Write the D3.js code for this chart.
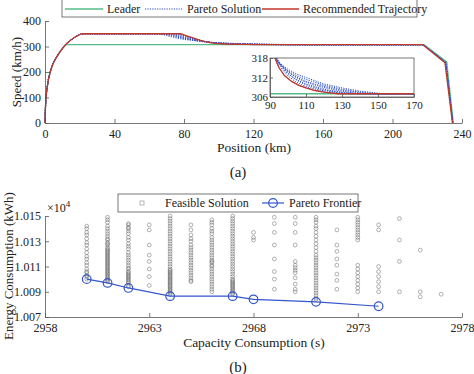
<!DOCTYPE html>
<html>
<head>
<meta charset="utf-8">
<script src="https://cdn.jsdelivr.net/npm/d3@7"></script>
<style>
  body { margin: 0; background: #fff; }
  svg { display: block; font-family: "Liberation Serif", "Times New Roman", serif; }
</style>
</head>
<body>
<svg id="chart" width="474" height="374"></svg>
<script>
// ---- panel (a) data: position (km), speed (km/h) ----
const accelPart = [[0,0],[0.2,50],[0.5,95],[1,129],[2,172],[3,201],[4,222],[5,238],[6,251],[7,262],[8,273],[9,283],[10,292],[11,300],[12.5,312],[14,321],[16,331],[18,340],[20,346.5],[21.5,350]];
const leaderAccel = [[0,0],[0.2,50],[0.5,95],[1,129],[2,172],[3,201],[4,222],[5,238],[6,251],[7,262],[8,273],[9,283],[10,292],[11,300],[11.8,307]];
const leaderEnd = [[218.1,307],[231.2,240],[235,0]];
const trajEnd = [[217.4,307],[230.2,236],[234.5,0]];
const paretoEnd = [[217.6,307],[230.6,238],[234.7,0]];

// deceleration parts of the Pareto solutions
const paretoDecel = [
  [[66,350],[70,343],[74,336],[78,330],[82,326],[86,322.5],[90,319.5],[95,316.5],[100,314.5],[105,313],[110,312],[115,311],[120,310],[130,308.8],[140,307.8],[153,307]],
  [[68,350],[72,343],[76,336.5],[80,331],[84,326.5],[88,322],[92,318.5],[96,316],[100,314],[105,312.5],[110,311.4],[115,310.5],[120,309.6],[130,308.4],[140,307.5],[150,307]],
  [[70,350],[74,343],[78,336],[82,330],[86,325],[90,320.5],[94,317],[98,314.8],[102,313],[106,311.8],[110,310.8],[116,309.8],[122,309],[130,308.1],[140,307.3],[147,307]],
  [[72,350],[76,342.5],[80,335.5],[84,329],[88,323.5],[92,319],[96,316],[100,313.8],[104,312.2],[108,311],[114,309.8],[120,308.9],[128,308],[136,307.3],[143,307]],
  [[74,350],[78,342],[82,334.5],[86,327.5],[90,321.5],[94,317],[98,314.2],[102,312.3],[106,311],[110,310],[116,309],[122,308.2],[130,307.5],[139,307]],
  [[76,350],[80,342],[84,334],[88,326.5],[92,320],[96,315.8],[100,313.2],[104,311.5],[108,310.2],[112,309.3],[118,308.4],[125,307.7],[135,307]],
  [[77,350],[81,341.5],[85,333],[89,325],[92,319.5],[96,315],[100,312.5],[104,310.8],[108,309.6],[113,308.7],[120,307.9],[128,307.3],[133,307]],
  [[78,350],[82,340.5],[86,331.5],[89,325],[92,319],[95,315],[98,312.6],[102,310.8],[106,309.6],[110,308.8],[115,308],[121,307.4],[128,307]]
];
const recommendedIndex = 7;

const xTicksA = [0, 40, 80, 120, 160, 200, 240];
const yTicksA = [0, 100, 200, 300, 400];
const insetXTicks = [90, 110, 130, 150, 170];
const insetYTicks = [306, 312, 318];

// ---- panel (b) data: capacity consumption (s), energy (x10^4 kWh) ----
const capacity = [2960, 2961, 2962, 2963, 2964, 2965, 2966, 2967, 2968, 2969, 2970, 2971, 2972, 2973, 2974, 2975, 2976, 2977];
const feasibleEnergy = [
  [1.0142,1.0140,1.0137,1.0135,1.0132,1.0129,1.0127,1.0124,1.0121,1.0118,1.0116,1.0113,1.0111,1.0108,1.0106,1.0105,1.0103,1.0102,1.0100],
  [1.0149,1.0147,1.0145,1.0142,1.0140,1.0138,1.0136,1.0134,1.0132,1.0131,1.0129,1.0128,1.0127,1.0125,1.0124,1.0123,1.0122,1.0121,1.0120,1.0119,1.0118,1.0117,1.0116,1.0115,1.0114,1.0113,1.0112,1.0111,1.0110,1.0109,1.0108,1.0107,1.0106,1.0105,1.0104,1.0103,1.0102,1.0101,1.0100,1.0099,1.0098],
  [1.0144,1.0143,1.0141,1.0140,1.0138,1.0136,1.0133,1.0131,1.0128,1.0126,1.0124,1.0121,1.0119,1.0117,1.0115,1.0113,1.0111,1.0109,1.0108,1.0106,1.0105,1.0104,1.0103,1.0102,1.0101,1.0100,1.0099,1.0098,1.0097,1.0095,1.0094],
  [1.0143,1.0139,1.0127,1.0119,1.0114,1.0108,1.0102,1.0095],
  [1.0150,1.0148,1.0146,1.0144,1.0142,1.0140,1.0138,1.0136,1.0134,1.0132,1.0130,1.0128,1.0126,1.0124,1.0122,1.0120,1.0118,1.0116,1.0114,1.0112,1.0110,1.0108,1.0107,1.0106,1.0105,1.0104,1.0103,1.0102,1.0101,1.0100,1.0099,1.0098,1.0097,1.0096,1.0095,1.0094,1.0093,1.0092,1.0091,1.0090,1.0089,1.0088],
  [1.0143,1.0139,1.0135,1.0132,1.0130,1.0127,1.0125,1.0123,1.0121,1.0119,1.0117,1.0115,1.0113,1.0111,1.0109,1.0107,1.0105,1.0103,1.0101,1.0099,1.0098],
  [1.0147,1.0145,1.0143,1.0140,1.0138,1.0136,1.0133,1.0131,1.0129,1.0127,1.0125,1.0123,1.0121,1.0119,1.0117,1.0115,1.0114,1.0113,1.0111,1.0110,1.0108,1.0106,1.0104,1.0102,1.0100,1.0098,1.0096,1.0094,1.0092,1.0090],
  [1.0150,1.0148,1.0146,1.0144,1.0142,1.0140,1.0138,1.0136,1.0134,1.0132,1.0130,1.0128,1.0126,1.0124,1.0122,1.0120,1.0118,1.0116,1.0114,1.0112,1.0110,1.0108,1.0106,1.0104,1.0102,1.0100,1.0099,1.0098,1.0097,1.0096,1.0095,1.0094,1.0093,1.0092,1.0091,1.0090,1.0089,1.0088],
  [1.0137,1.0133,1.0131],
  [1.0149,1.0144,1.0137,1.0127,1.0116,1.0106,1.0100,1.0092],
  [1.0149,1.0144,1.0137,1.0127,1.0114,1.0111,1.0109,1.0107,1.0105,1.0101,1.0096,1.0092,1.0090],
  [1.0149,1.0147,1.0145,1.0142,1.0140,1.0137,1.0134,1.0131,1.0128,1.0125,1.0122,1.0119,1.0117,1.0115,1.0113,1.0111,1.0109,1.0107,1.0105,1.0103,1.0101,1.0099,1.0097,1.0095,1.0093,1.0091,1.0089,1.0087,1.0085,1.0084],
  [1.0139,1.0127,1.0122,1.0116,1.0111,1.0104,1.0099,1.0092],
  [1.0149,1.0147,1.0145,1.0143,1.0141,1.0139,1.0137,1.0135,1.0133,1.0131,1.0111,1.0108,1.0105,1.0102,1.0099,1.0096,1.0093,1.0090],
  [1.0143,1.0139,1.0110,1.0106,1.0102,1.0098,1.0094,1.0090],
  [1.0148,1.0131,1.0114,1.0090],
  [1.0123,1.0090,1.0086],
  [1.0088]
];
const frontierCapacity = [2960, 2961, 2962, 2964, 2967, 2968, 2971, 2974];
const frontierEnergy = [1.0100, 1.0097, 1.0093, 1.00865, 1.00865, 1.0084, 1.0082, 1.00785];

const xTicksB = [2958, 2963, 2968, 2973, 2978];
const yTicksB = [1.007, 1.009, 1.011, 1.013, 1.015];

// colours
const cLeader = "#55bb8a", cPareto = "#2f4fd0", cRed = "#c0392b", cFront = "#3556cc", axisCol = "#555";
const serif = "'Liberation Serif', 'Times New Roman', serif";

const svg = d3.select("#chart");

function styleAxis(g) {
  g.attr("font-family", null).attr("font-size", null);
  g.select(".domain").attr("stroke", axisCol).attr("stroke-width", 0.8);
  g.selectAll(".tick line").attr("stroke", axisCol).attr("stroke-width", 0.8);
  g.selectAll(".tick text").attr("fill", "#222").style("font-size", "12px");
}

// ================= panel (a) =================
const xA = d3.scaleLinear().domain([0, 240]).range([45, 462]);
const yA = d3.scaleLinear().domain([0, 400]).range([123, 21]);

function fullPath(decel, end) {
  return accelPart.concat([[decel[0][0], 350]]).concat(decel).concat(end);
}
const paretoPaths = paretoDecel.map(d => fullPath(d, paretoEnd));
const redPath = fullPath(paretoDecel[recommendedIndex], trajEnd);
const leaderPath = leaderAccel.concat(leaderEnd);

function drawLines(g, xs, ys) {
  const line = d3.line().x(d => xs(d[0])).y(d => ys(d[1]));
  g.append("path").datum(leaderPath).attr("d", line)
    .attr("fill", "none").attr("stroke", cLeader).attr("stroke-width", 1.3);
  g.selectAll("path.pareto").data(paretoPaths).join("path").attr("class", "pareto")
    .attr("d", line).attr("fill", "none").attr("stroke", cPareto)
    .attr("stroke-width", 1).attr("stroke-dasharray", "1.2,1.2");
  g.append("path").datum(redPath).attr("d", line)
    .attr("fill", "none").attr("stroke", cRed).attr("stroke-width", 1.3);
}

const gA = svg.append("g");
drawLines(gA, xA, yA);

gA.append("g").attr("transform", `translate(0,${yA(0)})`)
  .call(d3.axisBottom(xA).tickValues(xTicksA).tickSizeInner(-4).tickSizeOuter(0).tickPadding(6))
  .call(styleAxis);
gA.append("g").attr("transform", `translate(${xA(0)},0)`)
  .call(d3.axisLeft(yA).tickValues(yTicksA).tickSizeInner(-4).tickSizeOuter(0).tickPadding(4))
  .call(styleAxis);

// inset
const xI = d3.scaleLinear().domain([90, 170]).range([270, 414]);
const yI = d3.scaleLinear().domain([306, 318]).range([97, 58]);
svg.append("defs").append("clipPath").attr("id", "insetClip")
  .append("rect").attr("x", 270).attr("y", 58).attr("width", 144).attr("height", 39);
const gI = svg.append("g");
gI.append("rect").attr("x", 270).attr("y", 58).attr("width", 144).attr("height", 39).attr("fill", "#fff");
const gIL = gI.append("g").attr("clip-path", "url(#insetClip)");
drawLines(gIL, xI, yI);
gI.append("rect").attr("x", 270).attr("y", 58).attr("width", 144).attr("height", 39)
  .attr("fill", "none").attr("stroke", axisCol).attr("stroke-width", 0.8);
gI.append("g").attr("transform", `translate(0,${yI(306)})`)
  .call(d3.axisBottom(xI).tickValues(insetXTicks).tickSizeInner(-3).tickSizeOuter(0).tickPadding(4))
  .call(styleAxis).call(g => g.selectAll(".tick text").style("font-size", "11px"));
gI.append("g").attr("transform", `translate(${xI(90)},0)`)
  .call(d3.axisLeft(yI).tickValues(insetYTicks).tickSizeInner(-3).tickSizeOuter(0).tickPadding(2))
  .call(styleAxis).call(g => g.selectAll(".tick text").style("font-size", "11px"));

// labels (a)
svg.append("text").attr("transform", "translate(16,72) rotate(-90)").attr("text-anchor", "middle")
  .attr("dy", "0.35em").style("font-size", "13px").attr("fill", "#222").text("Speed (km/h)");
svg.append("text").attr("x", 254).attr("y", 152).attr("text-anchor", "middle")
  .style("font-size", "13.5px").attr("fill", "#222").text("Position (km)");
svg.append("text").attr("x", 238).attr("y", 177).attr("text-anchor", "middle")
  .style("font-size", "15px").attr("fill", "#222").text("(a)");

// legend (a)
const legA = svg.append("g");
legA.append("rect").attr("x", 62).attr("y", -1).attr("width", 355).attr("height", 18)
  .attr("fill", "#fff").attr("stroke", axisCol).attr("stroke-width", 0.8);
const legItemsA = [
  { label: "Leader", x1: 65, x2: 103, tx: 107, color: cLeader, dash: null },
  { label: "Pareto Solution", x1: 145, x2: 183, tx: 187, color: cPareto, dash: "1.2,1.2" },
  { label: "Recommended Trajectory", x1: 262, x2: 299, tx: 303, color: cRed, dash: null }
];
legItemsA.forEach(d => {
  legA.append("line").attr("x1", d.x1).attr("x2", d.x2).attr("y1", 9).attr("y2", 9)
    .attr("stroke", d.color).attr("stroke-width", d.dash ? 1 : 1.3).attr("stroke-dasharray", d.dash);
  legA.append("text").attr("x", d.tx).attr("y", 9).attr("dy", "0.35em")
    .style("font-size", "12px").attr("fill", "#222").text(d.label);
});

// ================= panel (b) =================
const xB = d3.scaleLinear().domain([2958, 2978]).range([45, 462]);
const yB = d3.scaleLinear().domain([1.007, 1.015]).range([317, 216]);
const gB = svg.append("g");

const feasiblePts = capacity.flatMap((c, i) => feasibleEnergy[i].map(e => [c, e]));
gB.selectAll("circle.feas").data(feasiblePts).join("circle").attr("class", "feas")
  .attr("cx", d => xB(d[0])).attr("cy", d => yB(d[1])).attr("r", 1.9)
  .attr("fill", "none").attr("stroke", "#555").attr("stroke-opacity", 0.6).attr("stroke-width", 0.75);

const frontier = frontierCapacity.map((c, i) => [c, frontierEnergy[i]]);
gB.append("path").datum(frontier)
  .attr("d", d3.line().x(d => xB(d[0])).y(d => yB(d[1])))
  .attr("fill", "none").attr("stroke", cFront).attr("stroke-width", 1.2);
gB.selectAll("circle.front").data(frontier).join("circle").attr("class", "front")
  .attr("cx", d => xB(d[0])).attr("cy", d => yB(d[1])).attr("r", 4.3)
  .attr("fill", "none").attr("stroke", cFront).attr("stroke-width", 1.2);

gB.append("g").attr("transform", `translate(0,${yB(1.007)})`)
  .call(d3.axisBottom(xB).tickValues(xTicksB).tickFormat(d3.format("d")).tickSizeInner(-4).tickSizeOuter(0).tickPadding(6))
  .call(styleAxis);
gB.append("g").attr("transform", `translate(${xB(2958)},0)`)
  .call(d3.axisLeft(yB).tickValues(yTicksB).tickFormat(d3.format(".3f")).tickSizeInner(-4).tickSizeOuter(0).tickPadding(4))
  .call(styleAxis);

const expo = svg.append("text").attr("x", 47).attr("y", 212).style("font-size", "12px").attr("fill", "#222");
expo.append("tspan").text("\u00d710");
expo.append("tspan").attr("dy", -5).style("font-size", "9px").text("4");

svg.append("text").attr("transform", "translate(8,266) rotate(-90)").attr("text-anchor", "middle")
  .attr("dy", "0.35em").style("font-size", "13px").attr("fill", "#222").text("Energy Consumption (kWh)");
svg.append("text").attr("x", 254).attr("y", 347).attr("text-anchor", "middle")
  .style("font-size", "13.5px").attr("fill", "#222").text("Capacity Consumption (s)");
svg.append("text").attr("x", 238).attr("y", 372).attr("text-anchor", "middle")
  .style("font-size", "15px").attr("fill", "#222").text("(b)");

// legend (b)
const legB = svg.append("g");
legB.append("rect").attr("x", 118).attr("y", 194).attr("width", 240).attr("height", 18)
  .attr("fill", "#fff").attr("stroke", axisCol).attr("stroke-width", 0.8);
legB.append("rect").attr("x", 140).attr("y", 201).attr("width", 4).attr("height", 4)
  .attr("fill", "none").attr("stroke", "#999").attr("stroke-width", 0.7);
legB.append("text").attr("x", 165).attr("y", 203).attr("dy", "0.35em")
  .style("font-size", "12px").attr("fill", "#222").text("Feasible Solution");
legB.append("line").attr("x1", 262).attr("x2", 284).attr("y1", 203).attr("y2", 203)
  .attr("stroke", cFront).attr("stroke-width", 1.2);
legB.append("circle").attr("cx", 273).attr("cy", 203).attr("r", 4.3)
  .attr("fill", "none").attr("stroke", cFront).attr("stroke-width", 1.2);
legB.append("text").attr("x", 289).attr("y", 203).attr("dy", "0.35em")
  .style("font-size", "12px").attr("fill", "#222").text("Pareto Frontier");

// all text in serif
svg.selectAll("text").style("font-family", serif);
</script>
</body>
</html>
